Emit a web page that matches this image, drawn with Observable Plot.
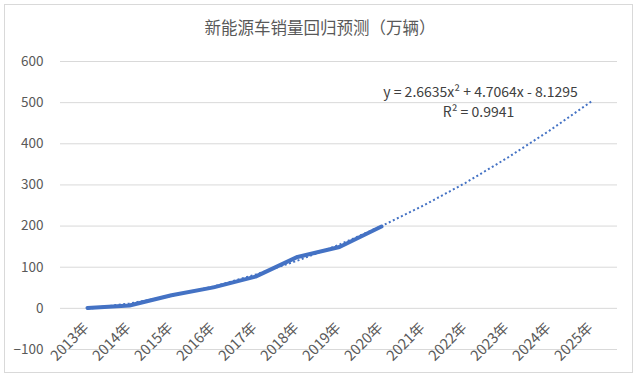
<!DOCTYPE html>
<html>
<head>
<meta charset="utf-8">
<script src="https://cdn.jsdelivr.net/npm/d3@7"></script>
<script src="https://cdn.jsdelivr.net/npm/@observablehq/plot@0.6"></script>
<style>
  html, body { margin: 0; padding: 0; background: #fff; }
  #wrap { position: relative; width: 640px; height: 378px; overflow: hidden; background: #fff; }
  #frame { position: absolute; left: 4px; top: 4px; width: 629px; height: 369px; border: 1px solid #d9d9d9; box-sizing: border-box; }
  #title { position: absolute; left: 0; top: 15px; width: 640px; text-align: center;
    font-family: "Noto Sans CJK SC", sans-serif; font-size: 16.5px; color: #595959; line-height: 24px; }
  #chart { position: absolute; left: 0; top: 45px; }
</style>
</head>
<body>
<div id="wrap">
  <div id="frame"></div>
  <div id="title">新能源车销量回归预测（万辆）</div>
  <div id="chart"></div>
</div>
<script>
const years = ["2013年","2014年","2015年","2016年","2017年","2018年","2019年","2020年","2021年","2022年","2023年","2024年","2025年"];
const salesYears = ["2013年","2014年","2015年","2016年","2017年","2018年","2019年","2020年"];
const sales = [1, 7, 32, 51, 77, 125, 149, 199];
const trend = [-1, 12, 30, 53, 82, 116, 155, 200, 250, 305, 366, 432, 503];
const yTicks = [-100, 0, 100, 200, 300, 400, 500, 600];
const equation = "y = 2.6635x² + 4.7064x - 8.1295";
const rSquared = "R² = 0.9941";

const salesData = salesYears.map((y, i) => ({year: y, value: sales[i]}));
const trendData = years.map((y, i) => ({year: y, value: trend[i]}));

const blue = "#4472C4";
const font = "'Noto Sans CJK SC', sans-serif";

const plot = Plot.plot({
  width: 640,
  height: 333,
  marginLeft: 60,
  marginRight: 23,
  marginTop: 16,
  marginBottom: 29,
  style: {fontFamily: font, fontSize: "13px", color: "#595959", background: "transparent", overflow: "visible"},
  x: {type: "point", domain: years, padding: 0.5, label: null, axis: null},
  y: {domain: [-100, 600], ticks: yTicks, label: null},
  marks: [
    Plot.ruleY(yTicks, {stroke: "#d9d9d9", strokeWidth: 1}),
    Plot.axisY({ticks: yTicks, tickSize: 0, tickPadding: 17, label: null, fill: "#595959", fontSize: 13.5}),
    Plot.text(years, {x: d => d, y: () => 0, text: d => d, rotate: -45, textAnchor: "end", lineAnchor: "middle", dx: -1, dy: 17, fill: "#595959", fontSize: 14.5}),
    Plot.line(trendData, {x: "year", y: "value", stroke: blue, strokeWidth: 2, strokeDasharray: "2,2.5", strokeLinecap: "butt"}),
    Plot.line(salesData, {x: "year", y: "value", stroke: blue, strokeWidth: 4, strokeLinecap: "round", strokeLinejoin: "round"}),
    Plot.text([equation], {frameAnchor: "top-right", dx: -137, dy: 31, text: d => d, textAnchor: "middle", lineAnchor: "middle", fill: "#404040", fontSize: 14}),
    Plot.text([rSquared], {frameAnchor: "top-right", dx: -139, dy: 51, text: d => d, textAnchor: "middle", lineAnchor: "middle", fill: "#404040", fontSize: 14})
  ]
});
document.getElementById("chart").appendChild(plot);
</script>
</body>
</html>
